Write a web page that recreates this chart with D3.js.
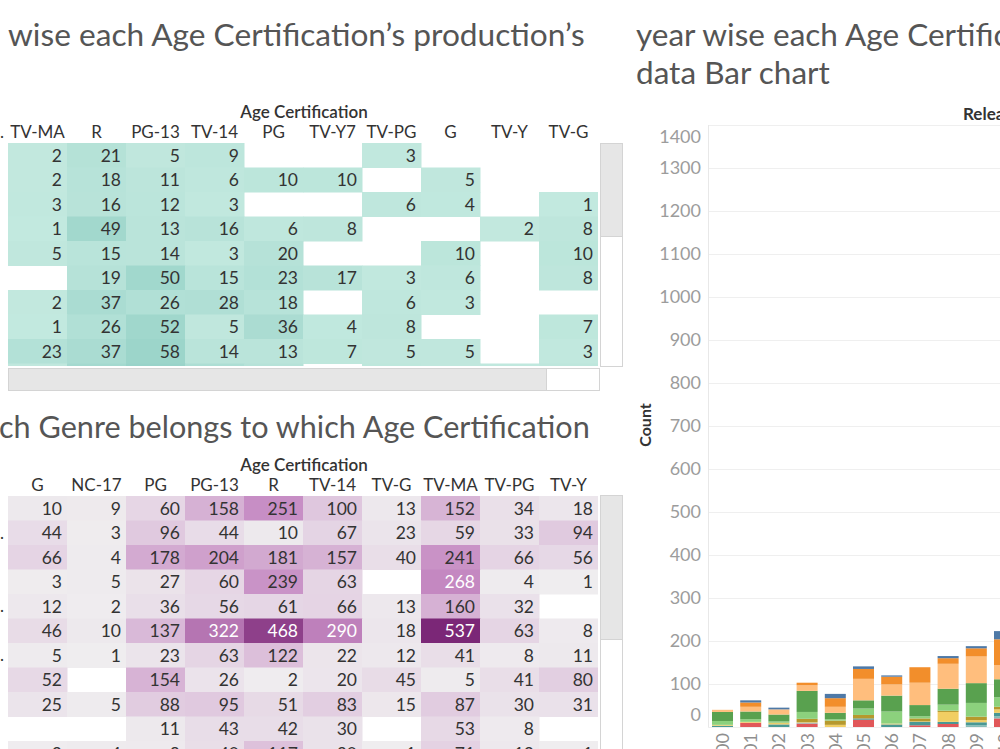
<!DOCTYPE html>
<html>
<head>
<meta charset="utf-8">
<script src="https://cdn.jsdelivr.net/npm/d3@7"></script>
<style>
  html, body { margin: 0; padding: 0; background: #fff; overflow: hidden; }
  svg { display: block; font-family: Lato, "Noto Sans", sans-serif; }
</style>
</head>
<body>
<div id="area"></div>
<script>
var width = 1000,
    height = 749;

// age certifications, in legend order (first one sits on top of each stack)
var certs = ["G", "NC-17", "PG", "PG-13", "R", "TV-14", "TV-G", "TV-MA", "TV-PG", "TV-Y", "TV-Y7"];
var certColors = ["#4e79a7", "#a0cbe8", "#f28e2b", "#ffbe7d", "#59a14f", "#8cd17d",
                  "#b6992d", "#f1ce63", "#499894", "#86bcb6", "#e15759"];

var years = ["2000", "2001", "2002", "2003", "2004", "2005", "2006", "2007", "2008", "2009", "2010"];
// counts per year, same order as certs
var yearCounts = [
  [0, 0, 0, 5, 21, 9, 0, 2, 3, 0, 0],
  [5, 0, 10, 11, 18, 6, 0, 2, 0, 0, 10],
  [4, 0, 0, 12, 16, 3, 1, 3, 6, 0, 0],
  [0, 0, 6, 13, 49, 16, 8, 1, 0, 2, 8],
  [10, 0, 20, 14, 15, 3, 10, 5, 0, 0, 0],
  [6, 0, 23, 50, 19, 15, 8, 0, 3, 0, 17],
  [3, 0, 18, 26, 37, 28, 0, 2, 6, 0, 0],
  [0, 0, 36, 52, 26, 5, 7, 1, 8, 0, 4],
  [5, 0, 13, 58, 37, 14, 3, 23, 5, 0, 7],
  [5, 0, 19, 62, 46, 32, 8, 5, 7, 4, 0],
  [19, 0, 60, 33, 42, 22, 6, 8, 8, 5, 20]
];

// column order of the year heatmap
var yearHeatCols = ["TV-MA", "R", "PG-13", "TV-14", "PG", "TV-Y7", "TV-PG", "G", "TV-Y", "TV-G"];

// genre heatmap
var genreCols = ["G", "NC-17", "PG", "PG-13", "R", "TV-14", "TV-G", "TV-MA", "TV-PG", "TV-Y"];
var genreCounts = [
  [10, 9, 60, 158, 251, 100, 13, 152, 34, 18],
  [44, 3, 96, 44, 10, 67, 23, 59, 33, 94],
  [66, 4, 178, 204, 181, 157, 40, 241, 66, 56],
  [3, 5, 27, 60, 239, 63, null, 268, 4, 1],
  [12, 2, 36, 56, 61, 66, 13, 160, 32, null],
  [46, 10, 137, 322, 468, 290, 18, 537, 63, 8],
  [5, 1, 23, 63, 122, 22, 12, 41, 8, 11],
  [52, null, 154, 26, 2, 20, 45, 5, 41, 80],
  [25, 5, 88, 95, 51, 83, 15, 87, 30, 31],
  [null, null, 11, 43, 42, 30, null, 53, 8, null],
  [2, 4, 8, 40, 117, 30, 1, 71, 12, 1]
];
var truncatedRows = [1, 4, 6];   // rows whose (cut off) genre label ends in a dot

var yTicks = [0, 100, 200, 300, 400, 500, 600, 700, 800, 900, 1000, 1100, 1200, 1300, 1400];

var titleColor = '#555',
    headColor = '#333',
    numColor = '#333',
    borderColor = '#d4d4d4',
    thumbColor = '#e6e6e6';

var svg = d3.select("#area").append("svg")
    .attr("width", width)
    .attr("height", height);

// scale a title's font so it covers the same width as in the dashboard
function fitTitle(sel, targetWidth) {
  var w = sel.node().getComputedTextLength();
  var size = 29 * targetWidth / w;
  sel.attr("font-size", size);
  return size;
}

// ---------- titles ----------
var t1 = svg.append("text").attr("x", 8).attr("y", 46)
    .attr("font-size", 29).attr("fill", titleColor)
    .text("wise each Age Certification\u2019s production\u2019s");
fitTitle(t1, 577);

var t2 = svg.append("text").attr("x", -1).attr("y", 438)
    .attr("font-size", 29).attr("fill", titleColor)
    .text("ch Genre belongs to which Age Certification");
fitTitle(t2, 591);

var t4 = svg.append("text").attr("x", 636).attr("y", 84)
    .attr("font-size", 29).attr("fill", titleColor)
    .text("data Bar chart");
var rightSize = fitTitle(t4, 194);
svg.append("text").attr("x", 636).attr("y", 46)
    .attr("font-size", rightSize).attr("fill", titleColor)
    .text("year wise each Age Certification\u2019s production\u2019s");

// ---------- shared heatmap drawing ----------
function drawHeatmap(opts) {
  var g = svg.append("g");
  var x = d3.scaleBand().domain(opts.cols).range([8, 598]);
  var rowIdx = d3.range(opts.rows.length);
  var y = d3.scaleBand().domain(rowIdx).range([opts.top, opts.top + opts.rowH * opts.rows.length]);

  g.append("text")
      .attr("x", 304).attr("y", opts.top - 25)
      .attr("text-anchor", "middle")
      .attr("font-size", 17).attr("font-weight", 600).attr("fill", headColor)
      .text("Age Certification");

  g.selectAll(".col-label").data(opts.cols).enter().append("text")
      .attr("x", function(d) { return x(d) + x.bandwidth() / 2; })
      .attr("y", opts.top - 5)
      .attr("text-anchor", "middle")
      .attr("font-size", 17).attr("fill", headColor)
      .text(function(d) { return d; });

  var clipId = "clip" + opts.top;
  svg.append("clipPath").attr("id", clipId)
    .append("rect").attr("x", 0).attr("y", opts.top)
    .attr("width", 598).attr("height", opts.clipBottom - opts.top);

  var body = g.append("g").attr("clip-path", "url(#" + clipId + ")");
  var cells = [];
  opts.rows.forEach(function(row, r) {
    row.forEach(function(v, c) {
      if (v != null && v !== 0) cells.push({r: r, c: opts.cols[c], v: v});
    });
  });

  body.selectAll("rect").data(cells).enter().append("rect")
      .attr("x", function(d) { return x(d.c); })
      .attr("y", function(d) { return y(d.r); })
      .attr("width", x.bandwidth() + 0.5)
      .attr("height", y.bandwidth() + 0.5)
      .attr("fill", function(d) { return opts.color(d.v); });

  body.selectAll("text").data(cells).enter().append("text")
      .attr("x", function(d) { return x(d.c) + x.bandwidth() - 5; })
      .attr("y", function(d) { return y(d.r) + y.bandwidth() / 2; })
      .attr("dy", "0.36em")
      .attr("text-anchor", "end")
      .attr("font-size", 17.5)
      .attr("fill", function(d) { return d.v >= opts.whiteAbove ? '#fff' : numColor; })
      .text(function(d) { return d.v; });
  return {x: x, y: y};
}

// ---------- year heatmap (teal) ----------
var teal = d3.scaleLinear().domain([0, 120]).range(["#c3e9df", "#72bfb4"]).clamp(true);
var yearRows = yearCounts.slice(0, 10).map(function(counts) {
  return yearHeatCols.map(function(c) { return counts[certs.indexOf(c)]; });
});
drawHeatmap({cols: yearHeatCols, rows: yearRows, top: 143, rowH: 24.5, clipBottom: 366,
             color: teal, whiteAbove: 1e9});
svg.append("text").attr("x", 0).attr("y", 138).attr("font-size", 17).attr("fill", headColor).text(".");

// scrollbars of the year heatmap
svg.append("rect").attr("x", 600.5).attr("y", 143.5).attr("width", 22).attr("height", 223)
    .attr("fill", "#fff").attr("stroke", borderColor);
svg.append("rect").attr("x", 600.5).attr("y", 143.5).attr("width", 22).attr("height", 93)
    .attr("fill", thumbColor).attr("stroke", borderColor);
svg.append("rect").attr("x", 8.5).attr("y", 368.5).attr("width", 591).attr("height", 22)
    .attr("fill", "#fff").attr("stroke", borderColor);
svg.append("rect").attr("x", 8.5).attr("y", 368.5).attr("width", 538).attr("height", 22)
    .attr("fill", thumbColor).attr("stroke", borderColor);

// ---------- genre heatmap (purple) ----------
var purple = d3.scaleLinear().domain([0, 260, 537]).range(["#efedef", "#c68bc3", "#7b2777"]);
drawHeatmap({cols: genreCols, rows: genreCounts, top: 496, rowH: 24.5, clipBottom: 749,
             color: purple, whiteAbove: 260});
svg.selectAll(".row-dot").data(truncatedRows).enter().append("text")
    .attr("x", 0)
    .attr("y", function(d) { return 496 + 24.5 * d + 12.25; })
    .attr("dy", "0.36em")
    .attr("font-size", 17).attr("fill", numColor)
    .text(".");

svg.append("rect").attr("x", 600.5).attr("y", 495.5).attr("width", 22).attr("height", 260)
    .attr("fill", "#fff").attr("stroke", borderColor);
svg.append("rect").attr("x", 600.5).attr("y", 495.5).attr("width", 22).attr("height", 144)
    .attr("fill", thumbColor).attr("stroke", borderColor);

// ---------- stacked bar chart ----------
var plotLeft = 708,
    plotTop = 125,
    plotBottom = 727;

var y = d3.scaleLinear().domain([0, 1400]).range([plotBottom, plotTop]);
var step = 28.2;
var x = d3.scaleBand().domain(years)
    .range([plotLeft, plotLeft + step * (years.length + 0.284 - 0.255)])
    .paddingInner(0.255).paddingOuter(0.142);

svg.append("text").attr("x", 963).attr("y", 120)
    .attr("font-size", 17).attr("font-weight", 700).attr("fill", headColor)
    .text("Release Year");

// gridlines
svg.append("g").selectAll("line").data(yTicks).enter().append("line")
    .attr("x1", plotLeft).attr("x2", width)
    .attr("y1", function(d) { return Math.round(y(d)) + 0.5; })
    .attr("y2", function(d) { return Math.round(y(d)) + 0.5; })
    .attr("stroke", "#efefef");
svg.append("line").attr("x1", plotLeft + 0.5).attr("x2", plotLeft + 0.5)
    .attr("y1", plotTop).attr("y2", plotBottom).attr("stroke", "#e8e8e8");

// y axis labels, clamped inside the pane like the original
var yAxis = svg.append("g").attr("transform", "translate(" + plotLeft + ",0)")
    .call(d3.axisLeft(y).tickValues(yTicks).tickFormat(d3.format("d")).tickSize(0).tickPadding(7));
yAxis.select(".domain").remove();
yAxis.selectAll(".tick")
    .attr("transform", function(d) {
      var p = Math.max(plotTop + 12, Math.min(plotBottom - 12, y(d)));
      return "translate(0," + p + ")";
    });
yAxis.selectAll("text").attr("font-family", "Lato, 'Noto Sans', sans-serif")
    .attr("font-size", 18).attr("fill", "#9c9c9c");

svg.append("text")
    .attr("transform", "translate(651,425) rotate(-90)")
    .attr("text-anchor", "middle")
    .attr("font-size", 16).attr("font-weight", 700).attr("fill", headColor)
    .text("Count");

// stack: last cert at the bottom
var stackData = years.map(function(yr, i) {
  var o = {year: yr};
  certs.forEach(function(c, j) { o[c] = yearCounts[i][j]; });
  return o;
});
var stack = d3.stack().keys(certs.slice().reverse());
var series = stack(stackData);
var color = d3.scaleOrdinal().domain(certs).range(certColors);

svg.append("g").selectAll("g").data(series).enter().append("g")
    .attr("fill", function(d) { return color(d.key); })
  .selectAll("rect").data(function(d) { return d; }).enter().append("rect")
    .attr("x", function(d) { return x(d.data.year); })
    .attr("y", function(d) { return y(d[1]); })
    .attr("width", x.bandwidth())
    .attr("height", function(d) { return y(d[0]) - y(d[1]); });

// x labels, rotated, reading bottom to top
svg.append("g").selectAll("text").data(years).enter().append("text")
    .attr("transform", function(d) {
      return "translate(" + (x(d) + x.bandwidth() / 2) + ",733) rotate(-90)";
    })
    .attr("dy", "0.36em")
    .attr("text-anchor", "end")
    .attr("font-size", 18).attr("fill", "#8f8f8f")
    .text(function(d) { return d; });
</script>
</body>
</html>
